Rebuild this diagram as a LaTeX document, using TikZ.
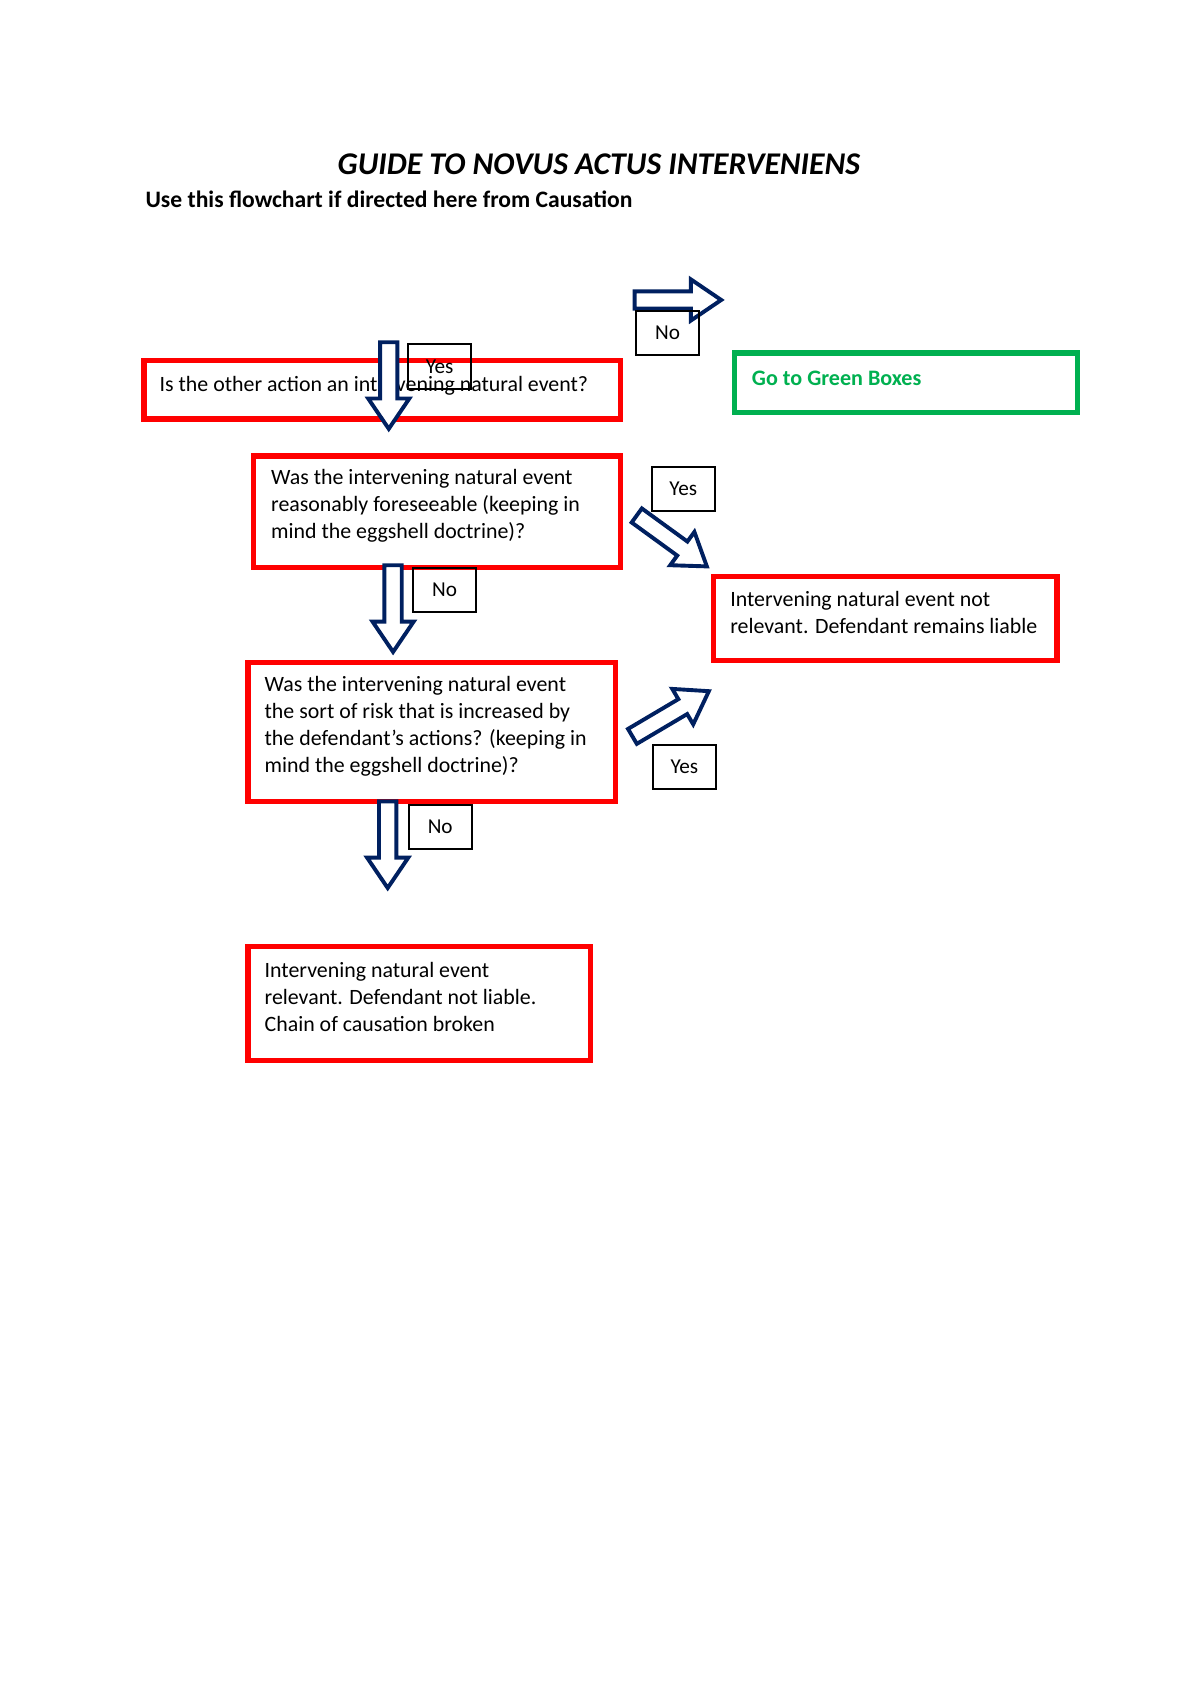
\documentclass[tikz,border=0pt]{standalone}
\usepackage{fontspec}
\setmainfont{Carlito}
\definecolor{navy}{RGB}{0,32,96}
\definecolor{boxred}{RGB}{255,0,0}
\definecolor{boxgreen}{RGB}{0,176,80}
\begin{document}
\begin{tikzpicture}[x=0.5pt,y=-0.5pt,
  redbox/.style={draw=boxred,line width=2.4pt},
  greenbox/.style={draw=boxgreen,line width=2.4pt},
  lbl/.style={draw=black,line width=0.9pt,minimum width=29pt,minimum height=20.5pt,inner sep=0pt,font=\fontsize{9.8}{11}\selectfont},
  txt/.style={anchor=west,align=left,inner sep=0pt,font=\fontsize{10.1}{12.5}\selectfont},
  barrow/.style={draw=navy,fill=white,line width=1.8pt,line join=miter}]
\useasboundingbox (0,0) rectangle (1108,1568);
\newcommand{\blkarrow}[4]{%
  \begin{scope}[shift={(#1,#2)},rotate=#3]
    \draw[barrow] (0,-8)--(#4-28,-8)--(#4-28,-19)--(#4,0)--(#4-28,19)--(#4-28,8)--(0,8)--cycle;
  \end{scope}}
% title
\node[font=\fontsize{14.6}{16}\selectfont\bfseries\itshape] (title) at (553,152) {GUIDE TO NOVUS ACTUS INTERVENIENS};
\node[anchor=west,inner sep=0pt,font=\fontsize{10.9}{12}\selectfont\bfseries] (sub) at (134,184) {Use this flowchart if directed here from Causation};
% boxes
\draw[redbox] (133,333) rectangle (573,387);
\node[txt] (q1) at (147,356) {Is the other action an intervening natural event?};
\draw[redbox] (234,421) rectangle (573,524);
\node[txt] (q2) at (250,467) {Was the intervening natural event\\reasonably foreseeable (keeping in\\mind the eggshell doctrine)?};
\draw[redbox] (229,612) rectangle (568,740);
\node[txt] (q3) at (244,670.5) {Was the intervening natural event\\the sort of risk that is increased by\\the defendant’s actions? (keeping in\\mind the eggshell doctrine)?};
\draw[redbox] (229,874) rectangle (545,979);
\node[txt] (r2) at (244,921) {Intervening natural event\\relevant. Defendant not liable.\\Chain of causation broken};
\draw[redbox] (659,532) rectangle (976,610);
\node[txt] (r1) at (674,565.5) {Intervening natural event not\\relevant. Defendant remains liable};
\draw[greenbox] (678,326) rectangle (995,381);
\node[txt,text=boxgreen,font=\fontsize{10.2}{12}\selectfont\bfseries] (g) at (694,349) {Go to Green Boxes};
% arrows
\blkarrow{359}{316}{-90}{80}
\blkarrow{586}{277}{0}{80}
\blkarrow{363}{522}{-90}{80}
\blkarrow{358}{740}{-90}{80}
\blkarrow{588}{476}{-36}{80}
\blkarrow{584}{680}{30.6}{82}
% labels
\node[lbl] (y1) at (406,338.5) {Yes};
\node[lbl] (n1) at (616.5,307.5) {No};
\node[lbl] (y2) at (631,451.5) {Yes};
\node[lbl] (n2) at (410.5,545) {No};
\node[lbl] (y3) at (632,708.5) {Yes};
\node[lbl] (n3) at (406.5,763.5) {No};
\end{tikzpicture}
\end{document}
